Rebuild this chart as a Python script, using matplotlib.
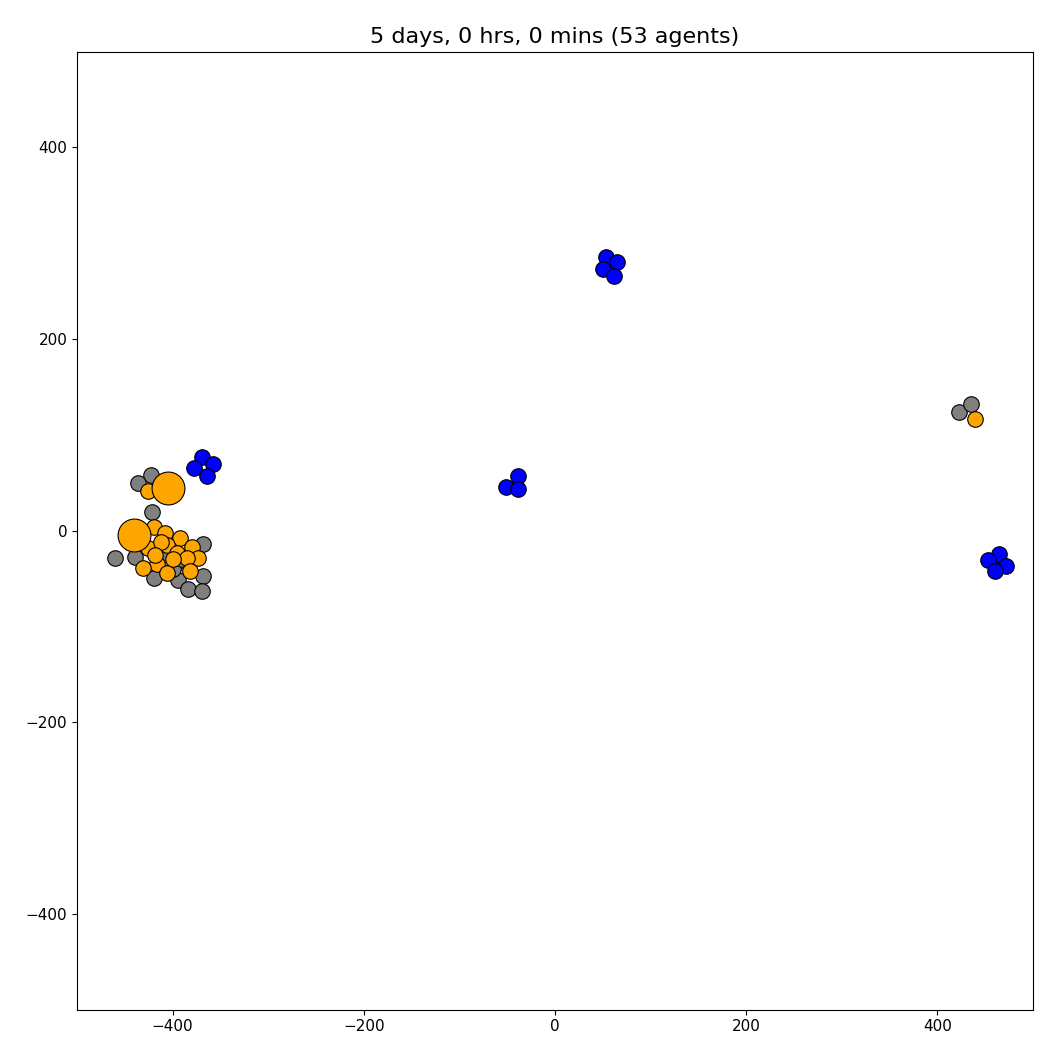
import matplotlib
matplotlib.use('Agg')
import matplotlib.pyplot as plt

# agent positions by group
gray_x = [-423, -436, -422, -368, -460, -439, -420, -394, -368, -384, -369, -398, -410, -400, -390, 423, 435]
gray_y = [58, 50, 20, -14, -28, -27, -49, -51, -47, -61, -63, -35, -25, -40, -30, 124, 132]
orange_x = [-426, -420, -408, -392, -406, -380, -426, -395, -373, -385, -416, -431, -382, -406, -412, -400, -418, 440]
orange_y = [41, 4, -2, -8, -15, -17, -18, -23, -28, -29, -35, -39, -42, -44, -12, -30, -25, 117]
big_x = [-405, -440]
big_y = [45, -5]
blue_x = [-369, -358, -378, -364, -51, -39, -39, 53, 65, 50, 62, 466, 465, 453, 472, 460]
blue_y = [77, 70, 65, 57, 46, 57, 43, 286, 280, 273, 266, -33, -24, -31, -37, -42]

fig, ax = plt.subplots(figsize=(10.56, 10.54), dpi=100)
ax.scatter(gray_x, gray_y, s=125, c='gray', edgecolors='black', linewidths=0.8, zorder=2)
ax.scatter(orange_x, orange_y, s=125, c='orange', edgecolors='black', linewidths=0.8, zorder=3)
ax.scatter(big_x, big_y, s=560, c='orange', edgecolors='black', linewidths=0.8, zorder=3)
ax.scatter(blue_x, blue_y, s=125, c='blue', edgecolors='black', linewidths=0.8, zorder=3)

ax.set_xlim(-500, 500)
ax.set_ylim(-500, 500)
ax.set_xticks([-400, -200, 0, 200, 400])
ax.set_yticks([-400, -200, 0, 200, 400])
ax.set_xticklabels(['\u2212400', '\u2212200', '0', '200', '400'])
ax.set_yticklabels(['\u2212400', '\u2212200', '0', '200', '400'])
ax.tick_params(labelsize=11)
ax.set_title('5 days, 0 hrs, 0 mins (53 agents)', fontsize=16)

plt.subplots_adjust(left=0.073, right=0.978, bottom=0.042, top=0.951)
plt.savefig('out.png', dpi=100)
